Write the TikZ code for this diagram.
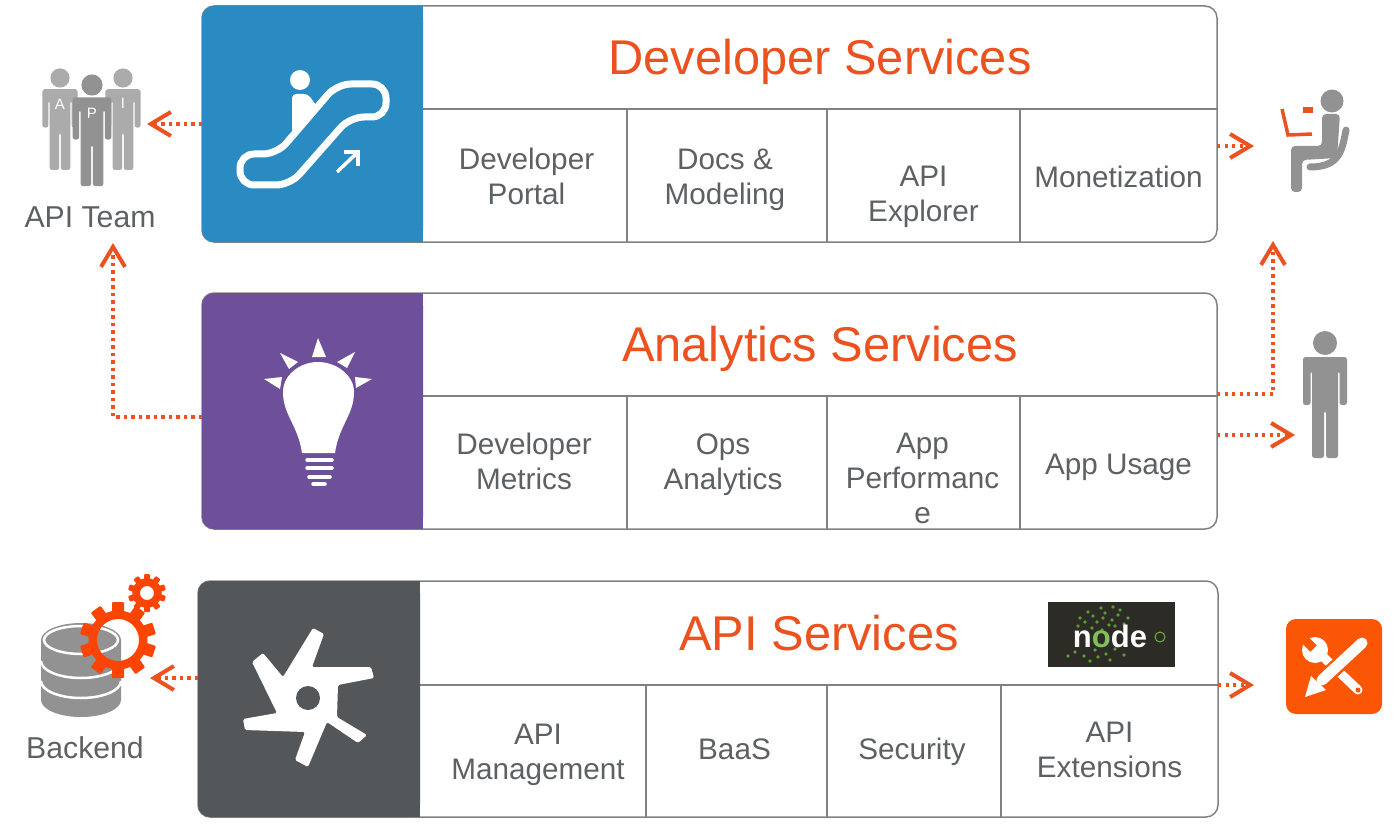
\documentclass[tikz,border=0pt]{standalone}
\usepackage{fontspec}
\setmainfont{Liberation Sans}
\usetikzlibrary{arrows.meta,positioning}
\definecolor{devblue}{HTML}{2A8AC2}
\definecolor{anapurple}{HTML}{6E4F9A}
\definecolor{apigrey}{HTML}{54575A}
\definecolor{brand}{HTML}{EC5220}
\definecolor{toolorange}{HTML}{FB5506}
\definecolor{labelgrey}{HTML}{5D6164}
\definecolor{rulegrey}{HTML}{7F8285}
\definecolor{figgrey}{HTML}{929292}
\definecolor{figlight}{HTML}{ABABAB}
\definecolor{nodedark}{HTML}{2C2B25}
\definecolor{nodegreen}{HTML}{6DB33F}

\begin{document}
\begin{tikzpicture}[x=1pt,y=-1pt,
    outer sep=0pt,inner sep=0pt,
    frame/.style={rectangle,draw=rulegrey,line width=1.5pt,rounded corners=12pt,fill=white,minimum height=236pt},
    tile/.style={rectangle,rounded corners=12pt,minimum height=236pt},
    title/.style={rectangle,minimum height=103pt,font=\fontsize{48.8}{87}\selectfont,text=brand,
      execute at begin node=\strut},
    cell/.style={rectangle,minimum height=133pt},
    celltext/.style={align=center,font=\fontsize{29.7}{35}\selectfont,text=labelgrey,
      execute at begin node=\strut,execute at end node=\strut},
    caption/.style={font=\fontsize{30.2}{34}\selectfont,text=labelgrey},
    spot/.style={rectangle,minimum width=#1},
    rule/.style={draw=rulegrey,line width=1.3pt},
    flow/.style={draw=brand,line width=3.5pt,dash pattern=on 3.2pt off 4.3pt,
      -{Straight Barb[length=20pt,width=24pt,line width=4pt]}},
    shirt/.style={text=white,font=\fontsize{15}{15}\selectfont},
    person/.pic={
      \fill[#1,rounded corners=2.5pt] (-22,14) -- (22,14) -- (22,62) -- (14.5,62) -- (14.5,28) -- (13,28)
        -- (13,115) -- (1,115) -- (1,68) -- (-1,68) -- (-1,115) -- (-13,115) -- (-13,28) -- (-14.5,28)
        -- (-14.5,62) -- (-22,62) -- cycle;
      \fill[#1] (0,0) circle (12);
    },
    gear/.pic={
      \fill[toolorange!80!red,even odd rule] (0,0) circle (29.5) (0,0) circle (#1);
      \foreach \a in {0,36,...,324}
        \fill[toolorange!80!red,rotate=\a,rounded corners=1pt] (-6,26) rectangle (6,38);
    }]

  \useasboundingbox (0,0) rectangle (1400,829);

  \node[frame,minimum width=1015pt] (devframe) at (709.5,124) {};
  \node[tile,fill=devblue,minimum width=221pt,right=0pt of devframe.west] (devtile) {};
  \fill[devblue] (devtile.north) rectangle (devtile.south east);
  \node[title,minimum width=794pt,right=0pt of devtile.north east,anchor=north west] (devtitle) {Developer Services};
  \node[cell,minimum width=204pt,below=0pt of devtitle.south west,anchor=north west] (dev1) {};
  \node[cell,minimum width=200pt,right=0pt of dev1] (dev2) {};
  \node[cell,minimum width=193pt,right=0pt of dev2] (dev3) {};
  \node[cell,minimum width=197pt,right=0pt of dev3] (dev4) {};

  \node[frame,minimum width=1015pt] (anaframe) at (709.5,411) {};
  \node[tile,fill=anapurple,minimum width=221pt,right=0pt of anaframe.west] (anatile) {};
  \fill[anapurple] (anatile.north) rectangle (anatile.south east);
  \node[title,minimum width=794pt,right=0pt of anatile.north east,anchor=north west] (anatitle) {Analytics Services};
  \node[cell,minimum width=204pt,below=0pt of anatitle.south west,anchor=north west] (ana1) {};
  \node[cell,minimum width=200pt,right=0pt of ana1] (ana2) {};
  \node[cell,minimum width=193pt,right=0pt of ana2] (ana3) {};
  \node[cell,minimum width=197pt,right=0pt of ana3] (ana4) {};

  \node[frame,minimum width=1020pt] (apiframe) at (708,699) {};
  \node[tile,fill=apigrey,minimum width=222pt,right=0pt of apiframe.west] (apitile) {};
  \fill[apigrey] (apitile.north) rectangle (apitile.south east);
  \node[title,minimum width=798pt,minimum height=104pt,right=0pt of apitile.north east,anchor=north west] (apititle) {API Services};
  \node[cell,minimum width=226pt,minimum height=132pt,below=0pt of apititle.south west,anchor=north west] (api1) {};
  \node[cell,minimum width=181pt,minimum height=132pt,right=0pt of api1] (api2) {};
  \node[cell,minimum width=174pt,minimum height=132pt,right=0pt of api2] (api3) {};
  \node[cell,minimum width=217pt,minimum height=132pt,right=0pt of api3] (api4) {};

  \foreach \c/\x/\s/\t in {dev1/1.5/6/Developer\\Portal,dev2/-2/6.5/Docs \&\\Modeling,
      dev3/0/23.5/API\\Explorer,dev4/0/5/Monetization,
      ana1/-1/4/Developer\\Metrics,ana2/-4/4.5/Ops\\Analytics,
      ana3/-1/21.5/App\\Performanc\\e,ana4/0/5/App Usage,
      api1/5/6.5/API\\Management,api2/-2/1/BaaS,api3/-2/1/Security,api4/0/4.5/API\\Extensions}
    \node[celltext,xshift=\x pt,yshift=-\s pt] (\c text) at (\c) {\t};

  \foreach \t in {devtitle,anatitle,apititle}
    \draw[rule] (\t.south west) -- (\t.south east);
  \foreach \c in {dev1,dev2,dev3,ana1,ana2,ana3,api1,api2,api3}
    \draw[rule] (\c.north east) -- (\c.south east);

  \draw[white,line width=7pt,rounded corners=14pt] (240,154) -- (277,154) -- (337,84) -- (386,84)
    -- (386,117) -- (350,117) -- (290,185) -- (240,185) -- cycle;
  \fill[white] (300,80) circle (10);
  \fill[white,rounded corners=4pt] (292,133) -- (292,94) -- (308,94) -- (318,108) -- (300,128) -- cycle;
  \draw[white,line width=3.5pt] (337,172) -- (358,152);
  \draw[white,line width=3.5pt] (344,152) -- (358,152) -- (358,166);

  \fill[white] (302,453) .. controls (298,425) and (283,415) .. (283,392)
    .. controls (283,375) and (300,362) .. (318,362)
    .. controls (336,362) and (354,375) .. (354,392)
    .. controls (354,415) and (339,425) .. (335,453) -- cycle;
  \foreach \a/\b/\c in {307/332/460,307/332/468,309/330/477,313/325/484}
    \draw[white,line width=3.5pt,line cap=round] (\a,\c) -- (\b,\c);
  \fill[white] (318,338) -- (312,357) -- (326,357) -- cycle;
  \fill[white] (280,353) -- (298,362) -- (289,369) -- cycle;
  \fill[white] (355,352) -- (337,362) -- (347,368) -- cycle;
  \fill[white] (264,379) -- (282,377) -- (280,389) -- cycle;
  \fill[white] (372,379) -- (355,377) -- (356,388) -- cycle;

  \fill[white,rounded corners=1.5pt] (313,628) -- (324,634) -- (312,667) -- (371,667) -- (374,678)
    -- (338,685) -- (337,717) -- (367,735) -- (358,743) -- (327,722) -- (308,767) -- (295,760)
    -- (305,732) -- (245,730) -- (243,719) -- (277,713) -- (252,662) -- (263,653) -- (283,677) -- cycle;
  \fill[apigrey] (308,698) circle (12);

  \node[spot=110pt,minimum height=130pt] (team) at (92,124) {};
  \pic at (60,78) [scale=.8] {person=figlight};
  \pic at (123,78) [scale=.8] {person=figlight};
  \pic at (92,85) [scale=.88] {person=figgrey};
  \node[shirt] (lettera) at (60,104) {A};
  \node[shirt] (letterp) at (92,113) {P};
  \node[shirt] (letteri) at (123,103) {I};
  \node[caption] (teamlabel) at (90,217) {API Team};

  \node[spot=110pt,minimum height=100pt] (backend) at (95,678) {};
  \fill[figgrey] (41,640) -- (41,700) arc[start angle=180,end angle=0,x radius=40,y radius=17] -- (121,640) -- cycle;
  \fill[figgrey] (81,640) ellipse (40 and 17);
  \draw[white,line width=2.5pt] (81,640) ellipse (37 and 14);
  \draw[white,line width=2.5pt] (41,661) arc[start angle=180,end angle=0,x radius=40,y radius=17];
  \draw[white,line width=2.5pt] (41,681) arc[start angle=180,end angle=0,x radius=40,y radius=17];
  \pic at (118,640) {gear=21};
  \pic at (147,593) [scale=.5] {gear=14};
  \node[caption] (backlabel) at (85,748) {Backend};

  \node[spot=96pt,minimum height=100pt] (chair) at (1302,146) {};
  \fill[figgrey] (1332,101) circle (11.5);
  \fill[figgrey,rounded corners=4pt] (1322,114) -- (1340,114) -- (1337,158) -- (1302,160) -- (1302,192)
    -- (1291,192) -- (1291,146) -- (1322,146) -- cycle;
  \draw[figgrey,line width=7pt,line cap=round] (1346,130) .. controls (1342,150) and (1340,167) .. (1310,167);
  \draw[brand,line width=3.5pt] (1282,109) -- (1288,135) -- (1312,134);
  \fill[brand] (1303,107) rectangle (1313,113);

  \pic at (1325,343) {person=figgrey};

  \node[rectangle,fill=toolorange,rounded corners=10pt,minimum width=96pt,minimum height=95pt] (tools) at (1334,666.5) {};
  \draw[white,line width=9pt,line cap=round] (1316,650) -- (1358,690);
  \fill[white] (1315,650) circle (13);
  \fill[toolorange,rotate around={45:(1315,650)}] (1310.5,630) rectangle (1319.5,648);
  \fill[toolorange] (1358,690) circle (2.5);
  \draw[toolorange,line width=16pt] (1362,643) -- (1317,685);
  \draw[white,line width=11pt,line cap=round] (1362,643) -- (1322,680);
  \fill[white] (1305,697) -- (1311,676) -- (1326,690) -- cycle;

  \node[rectangle,fill=nodedark,minimum width=127pt,minimum height=65pt] (nodelogo) at (1111.5,634.5) {};
  \foreach \a/\b in {1080/618,1088/612,1097/622,1105/613,1112/620,1120/610,1128/618,1092/628,
      1115/626,1102/630,1075/652,1084/656,1095/650,1106/654,1115/649,1124/655,1090/661,1110/660,1100/645,
      1085/622,1093/616,1101/608,1109/625,1118/615,1124/624,1078/626,1068/656,1098/657,1103/618,1113/607}
    \fill[nodegreen!85!black] (\a,\b) circle (1.8);
  \node[font=\fontsize{31}{31}\selectfont\bfseries,text=white] (nodename) at (1110,636)
    {n\textcolor{nodegreen!85!white}{o}de};
  \draw[nodegreen,line width=1pt] (1160,637) circle (5);

  \coordinate (teamup) at (113,243);
  \coordinate (chairup) at (1273,241);
  \coordinate (anaout) at (1217,394);
  \coordinate (usagein) at (1295,435);
  \coordinate (toolsin) at (1254,685);

  \draw[flow] (devtile.west |- team.east) -- (team.east);
  \draw[flow] ([yshift=-6pt]anatile.west) -| (teamup);
  \draw[flow] (apitile.west |- backend.east) -- (backend.east);
  \draw[flow] (devframe.east |- chair.west) -- (chair.west);
  \draw[flow] (anaout) -| (chairup);
  \draw[flow] (anaframe.east |- usagein) -- (usagein);
  \draw[flow] (apiframe.east |- toolsin) -- (toolsin);
\end{tikzpicture}
\end{document}
